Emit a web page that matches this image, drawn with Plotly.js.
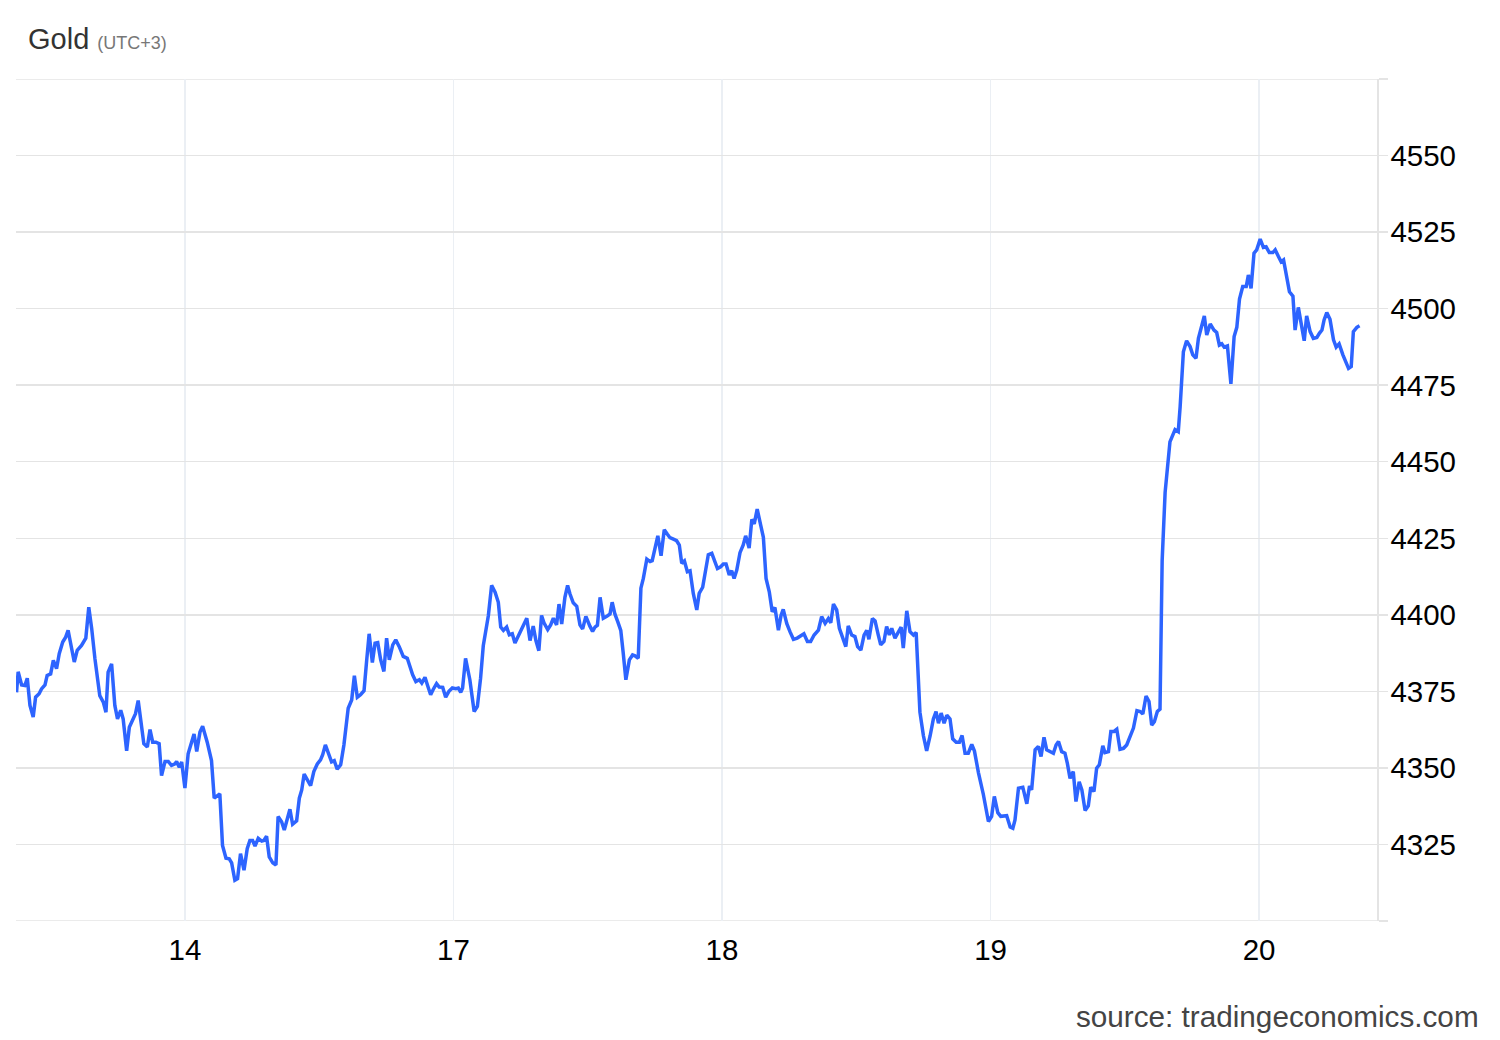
<!DOCTYPE html>
<html>
<head>
<meta charset="utf-8">
<script src="https://cdn.plot.ly/plotly-3.0.1.min.js"></script>
<style>html,body{margin:0;padding:0;background:#fff;}#chart{width:1500px;height:1040px;}</style>
</head>
<body>
<div id="chart"></div>
<script>
// time in trading days: 0 = start of the 14th, 1 = 17th, 2 = 18th, 3 = 19th, 4 = 20th
const dayTickVals = [0, 1, 2, 3, 4];
const dayTickText = ["14", "17", "18", "19", "20"];
const priceTickVals = [4300, 4325, 4350, 4375, 4400, 4425, 4450, 4475, 4500, 4525, 4550, 4575];
const priceTickText = ["", "4325", "4350", "4375", "4400", "4425", "4450", "4475", "4500", "4525", "4550", ""];
const priceRange = [4300, 4575];

const time = [
-0.627,-0.621,-0.608,-0.596,-0.587,-0.577,-0.565,-0.556,-0.543,-0.534,-0.521,-0.513,-0.500,-0.490,-0.478,-0.468,-0.455,-0.444,-0.435,-0.422,-0.412,-0.401,-0.385,-0.369,-0.358,-0.347,-0.335,-0.317,-0.304,-0.294,-0.286,-0.273,-0.261,-0.251,-0.239,-0.230,-0.217,-0.207,-0.195,-0.184,-0.174,-0.164,-0.153,-0.140,-0.130,-0.120,-0.108,-0.096,-0.087,-0.074,-0.062,-0.050,-0.037,-0.031,-0.021,-0.012,0.000,0.012,0.034,0.044,0.056,0.066,0.083,0.099,0.109,0.130,0.140,0.153,0.165,0.174,0.186,0.196,0.207,0.220,
0.232,0.242,0.252,0.261,0.273,0.286,0.294,0.304,0.314,0.327,0.339,0.347,0.360,0.370,0.381,0.391,0.401,0.416,0.426,0.435,0.444,0.457,0.468,0.480,0.493,0.505,0.513,0.523,0.534,0.546,0.556,0.567,0.580,0.592,0.608,0.621,0.631,0.642,0.654,0.667,0.677,0.686,0.698,0.708,0.718,0.729,0.741,0.751,0.761,0.774,0.785,0.798,0.813,0.828,0.838,0.848,0.860,0.873,0.882,0.894,0.904,0.915,0.925,0.937,0.947,0.960,0.971,0.983,0.996,
1.009,1.018,1.027,1.034,1.045,1.061,1.077,1.089,1.101,1.111,1.130,1.142,1.155,1.167,1.176,1.186,1.198,1.208,1.219,1.229,1.241,1.254,1.273,1.285,1.297,1.307,1.318,1.328,1.337,1.351,1.362,1.372,1.384,1.393,1.403,1.415,1.425,1.434,1.446,1.459,1.471,1.481,1.493,1.508,1.518,1.527,1.536,1.546,1.558,1.571,1.583,1.591,1.601,1.612,1.623,1.632,1.642,1.655,1.667,1.676,1.688,1.698,1.707,1.720,1.732,1.740,1.750,1.761,1.773,1.785,1.796,1.806,1.819,1.831,1.841,1.850,1.860,1.871,1.881,1.893,1.906,1.915,1.928,1.937,1.949,1.962,1.974,1.983,1.995,
2.005,2.015,2.027,2.036,2.045,2.055,2.067,2.079,2.088,2.101,2.111,2.120,2.131,2.144,2.154,2.164,2.176,2.187,2.197,2.210,2.220,2.228,2.241,2.253,2.266,2.280,2.293,2.305,2.318,2.330,2.343,2.359,2.371,2.384,2.396,2.405,2.415,2.427,2.437,2.450,2.461,2.470,2.483,2.495,2.505,2.517,2.529,2.539,2.547,2.560,2.570,2.582,2.591,2.603,2.613,2.623,2.632,2.644,2.657,2.667,2.675,2.688,2.700,2.713,2.723,2.737,2.750,2.762,2.775,2.787,2.797,2.806,2.816,2.827,2.837,2.849,2.859,2.872,2.884,2.894,2.905,2.917,2.930,2.940,2.955,2.973,2.992,
3.004,3.014,3.027,3.038,3.050,3.060,3.073,3.083,3.091,3.104,3.120,3.135,3.145,3.153,3.166,3.178,3.188,3.199,3.209,3.222,3.234,3.244,3.253,3.265,3.277,3.286,3.296,3.308,3.318,3.330,3.340,3.352,3.364,3.373,3.385,3.395,3.405,3.418,3.426,3.439,3.448,3.460,3.470,3.482,3.495,3.507,3.520,3.532,3.545,3.557,3.567,3.579,3.590,3.600,3.610,3.621,3.631,3.639,3.650,3.662,3.668,3.687,3.699,3.706,3.718,3.730,3.743,3.753,3.765,3.774,3.787,3.796,3.805,3.818,3.832,3.842,3.852,3.861,3.870,3.882,3.895,3.907,3.917,3.927,3.939,3.952,3.960,3.970,3.981,3.991,
4.004,4.016,4.026,4.038,4.051,4.060,4.072,4.082,4.091,4.101,4.113,4.126,4.134,4.146,4.155,4.168,4.177,4.190,4.202,4.215,4.225,4.234,4.242,4.252,4.264,4.277,4.287,4.298,4.312,4.324,4.333,4.343,4.351,4.364,4.374
];

const price = [
4374.7,4381.4,4377.1,4376.9,4379.3,4370.4,4366.6,4373.1,4374.2,4375.8,4377.1,4380.2,4380.7,4385.1,4382.4,4387.3,4391.1,4392.7,4394.9,4388.4,4384.6,4388.4,4390.0,4392.4,4402.5,4395.4,4385.6,4373.6,4371.5,4368.2,4381.3,4384.0,4370.4,4366.0,4368.8,4366.0,4355.6,4363.3,4366.0,4367.7,4372.0,4365.0,4357.9,4356.8,4362.5,4358.4,4358.4,4357.9,4347.5,4352.1,4352.1,4350.8,4351.3,4352.1,4350.2,4351.9,4343.4,4354.6,4361.1,4355.4,4361.7,4363.6,4358.4,4352.4,4340.1,4341.5,4324.7,4320.5,4320.3,4319.0,4313.3,4313.8,4322.0,4316.6,
4323.6,4326.3,4326.3,4324.5,4327.0,4326.1,4326.3,4327.7,4320.9,4319.0,4318.3,4334.1,4332.4,4329.7,4333.5,4336.5,4331.6,4332.7,4340.1,4342.8,4348.0,4346.1,4344.2,4348.8,4351.3,4352.6,4354.3,4357.5,4354.8,4352.0,4352.4,4349.6,4351.0,4357.5,4369.5,4372.2,4380.1,4373.1,4373.9,4375.2,4385.3,4393.8,4384.4,4390.7,4390.9,4385.3,4381.5,4392.4,4385.3,4390.2,4391.8,4389.6,4386.4,4385.8,4383.1,4380.4,4378.2,4378.8,4377.7,4379.6,4376.8,4373.9,4375.7,4377.5,4376.4,4376.3,4373.1,4375.0,4376.1,
4375.9,4376.1,4374.7,4376.1,4385.8,4378.8,4368.4,4370.1,4379.3,4389.9,4399.8,4409.6,4407.4,4404.1,4396.0,4394.9,4396.0,4393.5,4393.8,4390.8,4393.2,4395.4,4398.9,4391.6,4396.3,4391.6,4388.3,4399.8,4397.4,4395.2,4396.7,4398.9,4396.7,4403.5,4397.0,4405.7,4409.6,4406.8,4403.9,4402.8,4396.7,4395.4,4399.5,4396.3,4394.6,4396.0,4396.6,4405.7,4398.9,4399.5,4400.3,4404.1,4400.3,4397.7,4394.9,4387.6,4378.8,4385.3,4386.9,4386.6,4385.8,4408.7,4411.9,4418.2,4417.4,4417.7,4421.8,4425.8,4419.3,4427.8,4426.4,4425.2,4424.7,4424.2,4422.8,4416.8,4417.6,4414.1,4414.4,4407.0,4401.6,4407.0,4409.0,4413.8,4419.6,4420.1,4417.4,4415.1,4415.7,
4416.6,4416.6,4413.0,4414.4,4411.9,4414.6,4420.3,4422.8,4425.8,4421.8,4431.2,4429.7,4434.5,4429.3,4425.3,4411.9,4407.5,4401.0,4402.4,4395.0,4399.9,4401.8,4397.2,4394.5,4392.0,4392.4,4393.1,4393.8,4391.3,4391.3,4393.4,4395.0,4399.4,4397.2,4398.8,4397.4,4403.5,4401.6,4395.6,4392.4,4389.6,4396.4,4393.4,4392.9,4389.6,4388.5,4393.4,4394.9,4392.0,4398.8,4398.0,4393.4,4390.2,4391.3,4396.2,4393.4,4395.6,4392.4,4394.5,4396.0,4389.1,4401.3,4394.5,4393.4,4394.2,4368.2,4360.5,4355.6,4360.5,4366.0,4368.4,4364.6,4367.9,4364.6,4367.2,4366.0,4359.5,4358.4,4358.4,4360.6,4354.8,4354.8,4357.7,4355.5,4348.4,4341.4,4332.5,
4334.2,4340.7,4335.4,4334.2,4334.2,4334.4,4330.7,4330.3,4333.0,4343.4,4343.7,4338.3,4344.1,4342.8,4355.9,4357.0,4353.7,4360.0,4355.9,4355.3,4354.8,4357.5,4358.6,4355.3,4354.8,4351.5,4346.6,4348.8,4339.0,4345.5,4342.8,4336.1,4337.6,4343.7,4342.3,4349.9,4351.0,4357.2,4355.0,4355.3,4361.9,4361.9,4362.6,4356.1,4356.4,4357.5,4360.8,4363.0,4368.7,4368.4,4367.6,4373.5,4371.7,4364.0,4365.1,4368.4,4369.2,4417.8,4440.0,4451.1,4456.5,4460.5,4459.8,4468.0,4485.9,4489.5,4487.6,4484.9,4483.8,4490.3,4494.4,4497.6,4491.4,4495.0,4493.0,4492.2,4488.1,4488.5,4487.4,4487.8,4475.4,4490.9,4493.9,4503.1,4507.2,4507.2,4511.0,4506.6,4518.1,4519.2,
4522.7,4520.0,4520.2,4518.3,4518.3,4519.2,4517.0,4515.3,4515.9,4511.0,4505.5,4504.1,4493.0,4500.4,4496.3,4489.5,4497.6,4492.5,4490.3,4490.6,4492.0,4493.0,4496.3,4498.7,4496.5,4489.8,4487.4,4488.5,4484.9,4482.2,4480.5,4481.1,4492.5,4493.9,4494.4
];

const FONT = '"Liberation Sans", Arial, sans-serif';
const GRID = '#e4e4e4';

const trace = {
  type: 'scatter',
  mode: 'lines',
  x: time,
  y: price,
  line: {color: '#2d64ff', width: 3.5},
  hoverinfo: 'skip'
};

// border lines at the top and bottom edge of the value range (gridlines that plotly skips at range ends)
const edgeLines = [priceRange[0], priceRange[1]].map(v => ({
  type: 'line', xref: 'paper', yref: 'y',
  x0: 0, x1: 1, y0: v, y1: v,
  line: {color: GRID, width: 1.5},
  layer: 'below'
}));

const layout = {
  width: 1500,
  height: 1040,
  paper_bgcolor: '#ffffff',
  plot_bgcolor: '#ffffff',
  showlegend: false,
  margin: {l: 16, r: 123, t: 79, b: 119, pad: 0},
  font: {family: FONT, color: '#000'},
  title: {
    text: 'Gold <span style="font-size:18px;color:#777777">(UTC+3)</span>',
    font: {family: FONT, size: 29, color: '#333333'},
    xref: 'container', yref: 'container',
    x: 28 / 1500, xanchor: 'left',
    y: 1 - 39 / 1040, yanchor: 'middle'
  },
  xaxis: {
    type: 'linear',
    range: [-0.629, 4.439],
    tickvals: dayTickVals,
    ticktext: dayTickText,
    showgrid: true,
    gridcolor: '#ebeff4',
    gridwidth: 1.5,
    zeroline: false,
    showline: false,
    ticks: 'outside',
    ticklen: 3,
    tickcolor: 'rgba(0,0,0,0)',
    tickfont: {family: FONT, size: 29.5, color: '#000'},
    fixedrange: true
  },
  yaxis: {
    side: 'right',
    range: priceRange,
    tickvals: priceTickVals,
    ticktext: priceTickText,
    showgrid: true,
    gridcolor: GRID,
    gridwidth: 1.5,
    zeroline: false,
    showline: true,
    linecolor: GRID,
    linewidth: 1.5,
    ticks: 'outside',
    ticklen: 9,
    tickcolor: GRID,
    tickwidth: 1.5,
    ticklabelstandoff: -3,
    tickfont: {family: FONT, size: 29.5, color: '#000'},
    fixedrange: true
  },
  shapes: edgeLines,
  annotations: [{
    text: 'source: tradingeconomics.com',
    xref: 'paper', yref: 'paper',
    x: (1481 - 16) / 1361, xanchor: 'right',
    y: -(1016 - 921) / 842, yanchor: 'middle',
    showarrow: false,
    font: {family: FONT, size: 29.7, color: '#444444'}
  }]
};

Plotly.newPlot('chart', [trace], layout, {displayModeBar: false, staticPlot: true});
</script>
</body>
</html>
